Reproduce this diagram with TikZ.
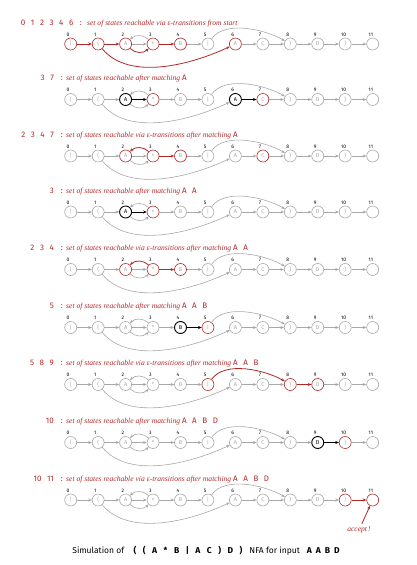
\documentclass[tikz,border=0pt]{standalone}
\usepackage{fontspec}
\setsansfont{Fira Sans}
\newfontfamily\labfont{Liberation Serif}
\usetikzlibrary{arrows.meta}

\definecolor{nfared}{RGB}{178,40,40}
\definecolor{lgray}{RGB}{168,168,168}

\makeatletter
% pick/.style is #4, #4 red or #4 black, as #1 is in list #2 or #3
\newcommand\pickstyle[4]{%
  \tikzset{pick/.style={#4}}%
  \edef\pick@tmp{\noexpand\in@{.#1.}{.#2.}}\pick@tmp
  \ifin@\tikzset{pick/.style={#4 red}}\fi
  \edef\pick@tmp{\noexpand\in@{.#1.}{.#3.}}\pick@tmp
  \ifin@\tikzset{pick/.style={#4 black}}\fi}
\makeatother
\newcommand\gapp{\hspace{5.6pt}}
\newcommand\inp[1]{\textsf{\upshape\fontsize{8}{9}\selectfont #1}}

\begin{document}
\begin{tikzpicture}[x=1pt, y=1pt, >={Stealth[length=3.6pt, width=3pt]},
    state/.style={circle, draw=lgray, text=lgray, fill=white, line width=0.6pt,
      minimum size=12pt, inner sep=0pt, font=\sffamily\fontsize{5.5}{6}\selectfont,
      every label/.style={text=lgray}},
    state red/.style={state, draw=nfared, every label/.append style={text=nfared}},
    state black/.style={state, draw=black, text=black, line width=0.9pt},
    idx/.style={font=\sffamily\fontsize{5}{5}\selectfont, inner sep=0.3pt,
      anchor=south west, xshift=-4.5pt, label distance=1pt},
    eps/.style={->, lgray, line width=0.6pt},
    eps red/.style={eps, nfared, line width=0.8pt},
    eps black/.style={eps, black, line width=0.9pt},
    numlab/.style={font=\sffamily\fontsize{8}{9}\selectfont, text=nfared, inner sep=0pt, anchor=base east},
    txtlab/.style={font=\labfont\itshape\fontsize{7.6}{9}\selectfont, text=nfared, inner sep=0pt, anchor=base west},
    capt/.style={font=\sffamily\fontsize{8.5}{10}\selectfont, inner sep=0pt}]
  \useasboundingbox (0,0) rectangle (417,-565);

  % one row of the NFA for each step
  \foreach \r/\y/\reds/\blks in {
      1/-44/n0.n1.n2.n3.n4.n6.e0-1.e1-2.l2-3.e3-4.c1-6/x,
      2/-99.5/n3.n7/n2.n6.e2-3.e6-7,
      3/-156/n2.n3.n4.n7.u3-2.e3-4/x,
      4/-212/n3/n2.e2-3,
      5/-269.5/n2.n3.n4.u3-2.e3-4/x,
      6/-327.5/n5/n4.e4-5,
      7/-384.5/n5.n8.n9.c5-8.e8-9/x,
      8/-442.5/n10/n9.e9-10,
      9/-500/n10.n11.e10-11/x} {
    % states
    \foreach \i/\c in {0/{(},1/{(},2/A,3/{*},4/B,5/{|},6/A,7/C,8/{)},9/D,10/{)},11/{}} {
      \pickstyle{n\i}{\reds}{\blks}{state}
      \node[pick, label={[idx]90:\i}] (n\r-\i) at ({70.7+27.45*\i}, \y) {\c};
    }
    % match and epsilon transitions
    \foreach \a/\b in {0/1,1/2,2/3,3/4,4/5,6/7,7/8,8/9,9/10,10/11} {
      \pickstyle{e\a-\b}{\reds}{\blks}{eps}
      \draw[pick] (n\r-\a) -- (n\r-\b);
    }
    \pickstyle{u3-2}{\reds}{\blks}{eps}
    \draw[pick] (n\r-3) to[bend right=45] (n\r-2);
    \pickstyle{l2-3}{\reds}{\blks}{eps}
    \draw[pick] (n\r-2) to[bend right=45] (n\r-3);
    \pickstyle{c1-6}{\reds}{\blks}{eps}
    \draw[pick] (n\r-1) to[out=-50, in=-155, looseness=0.85] (n\r-6);
    \pickstyle{c5-8}{\reds}{\blks}{eps}
    \draw[pick] (n\r-5) to[out=55, in=150, looseness=0.8] (n\r-8);
  }

  % row labels
  \node[numlab, anchor=base west] (s1) at (20.7,-25) {0\gapp1\gapp2\gapp3\gapp4\gapp6\hspace{6.5pt}:};
  \node[txtlab] (t1) at ([xshift=5pt]s1.base east) {set of states reachable via ε-transitions from start};
  \node[numlab] (s2) at (63,-80.5) {3\gapp7\hspace{7pt}:};
  \node[txtlab] (t2) at (66,-80.5) {set of states reachable after matching \inp{A}};
  \node[numlab] (s3) at (63,-137) {2\gapp3\gapp4\gapp7\hspace{7pt}:};
  \node[txtlab] (t3) at (66,-137) {set of states reachable via ε-transitions after matching \inp{A}};
  \node[numlab] (s4) at (63,-193) {3\hspace{7pt}:};
  \node[txtlab] (t4) at (66,-193) {set of states reachable after matching \inp{A\gapp A}};
  \node[numlab] (s5) at (63,-250.5) {2\gapp3\gapp4\hspace{7pt}:};
  \node[txtlab] (t5) at (66,-250.5) {set of states reachable via ε-transitions after matching \inp{A\gapp A}};
  \node[numlab] (s6) at (63,-308.5) {5\hspace{7pt}:};
  \node[txtlab] (t6) at (66,-308.5) {set of states reachable after matching \inp{A\gapp A\gapp B}};
  \node[numlab] (s7) at (63,-365.5) {5\gapp8\gapp9\hspace{7pt}:};
  \node[txtlab] (t7) at (66,-365.5) {set of states reachable via ε-transitions after matching \inp{A\gapp A\gapp B}};
  \node[numlab] (s8) at (63,-423.5) {10\hspace{7pt}:};
  \node[txtlab] (t8) at (66,-423.5) {set of states reachable after matching \inp{A\gapp A\gapp B\gapp D}};
  \node[numlab] (s9) at (63,-481) {10\gapp11\hspace{7pt}:};
  \node[txtlab] (t9) at (66,-481) {set of states reachable via ε-transitions after matching \inp{A\gapp A\gapp B\gapp D}};

  % accept
  \node[txtlab, anchor=center, font=\labfont\itshape\fontsize{7.5}{8}\selectfont] (acc) at (359,-530) {accept\,!};
  \draw[eps red, shorten <=3pt] (acc) -- (n9-11);

  \node[capt] (cap) at (206,-551) {Simulation of\hspace{9pt}\textbf{(\hspace{6.5pt}(\hspace{6.5pt}A\hspace{6.5pt}*\hspace{6.5pt}B\hspace{6.5pt}|\hspace{6.5pt}A\hspace{6.5pt}C\hspace{6.5pt})\hspace{6.5pt}D\hspace{6.5pt})}\hspace{7pt}NFA for input\hspace{7pt}\textbf{A\hspace{4pt}A\hspace{4pt}B\hspace{4pt}D}};
\end{tikzpicture}
\end{document}
